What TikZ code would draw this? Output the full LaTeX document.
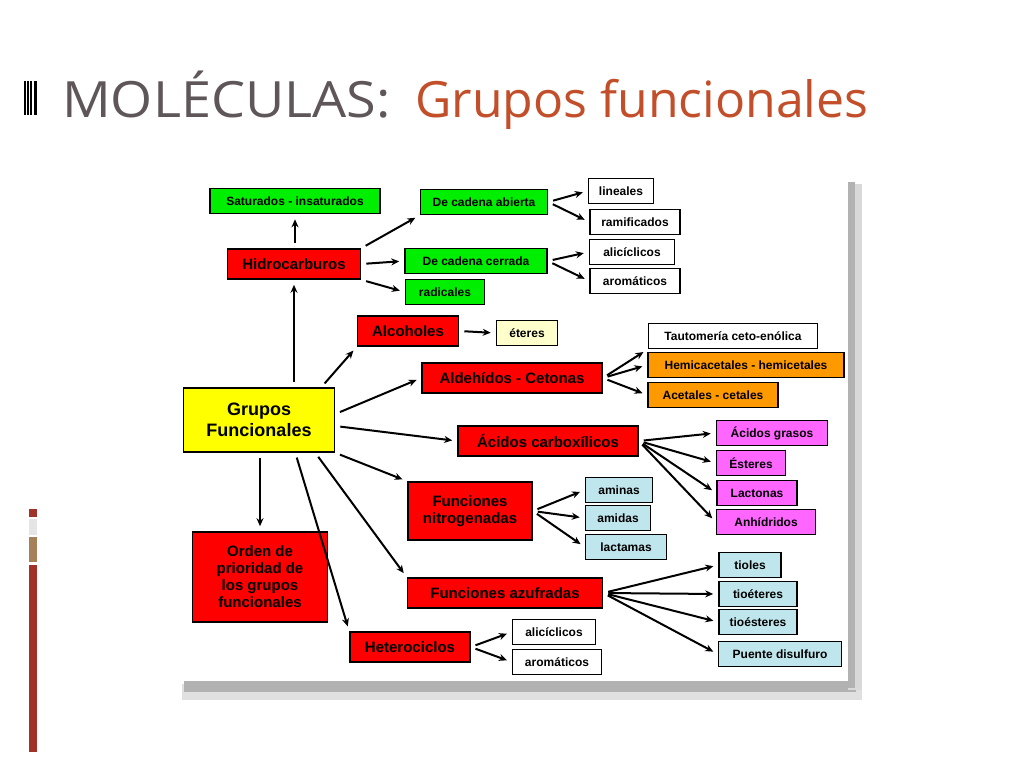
\documentclass[tikz,border=0pt]{standalone}
\usepackage{fontspec}
\setmainfont{Liberation Sans}
\newfontfamily\titlefont{Open Sans}
\usetikzlibrary{arrows.meta,shadows}
\definecolor{gr}{HTML}{00EE00}
\definecolor{rd}{HTML}{FF0000}
\definecolor{ye}{HTML}{FFFF00}
\definecolor{ora}{HTML}{FF9900}
\definecolor{mag}{HTML}{FF66FF}
\definecolor{lb}{HTML}{BFE6EC}
\definecolor{cre}{HTML}{FFFFCC}
\definecolor{bar}{HTML}{A0322A}
\definecolor{ttl}{HTML}{5E5658}
\definecolor{ttl2}{HTML}{C24E2A}
\begin{document}
\begin{tikzpicture}[x=1pt,y=-1pt,
 bx/.style={draw=black,line width=1.6pt,inner sep=0pt,font=\bfseries\fontsize{12}{13}\selectfont,align=center},
 s/.style={bx,minimum width=#1,minimum height=25},
 g/.style={s=#1,fill=gr}, w/.style={s=#1,fill=white}, o/.style={s=#1,fill=ora},
 m/.style={s=#1,fill=mag}, l/.style={s=#1,fill=lb},
 r/.style={bx,fill=rd,minimum width=#1,minimum height=30,font=\bfseries\fontsize{15}{17}\selectfont},
 ar/.style={-{Stealth[length=8pt,width=7pt]},line width=2pt,shorten >=5pt,shorten <=5pt}]
\useasboundingbox (0,0) rectangle (1024,768);
\fill[white] (0,0) rectangle (1024,768);
% title
\foreach \x/\wd in {24/1.5,27/1.5,30/2,33.5/3.5}{\fill[black] (\x,81) rectangle (\x+\wd,115);}
\node[anchor=base west,inner sep=0pt,text=ttl,font=\titlefont\fontsize{50}{54}\selectfont] (t1) at (62,117) {\scalebox{1.08}[1]{MOLÉCULAS:}};
\node[anchor=base west,inner sep=0pt,text=ttl2,font=\titlefont\fontsize{50}{54}\selectfont] (t2) at (415,117) {Grupos funcionales};
% side bar
\fill[bar] (29,509) rectangle (37,517);
\fill[black!10] (29,519) rectangle (37,535);
\fill[brown!60!gray] (29,537) rectangle (37,562);
\fill[bar] (29,565) rectangle (37,752);
% panel
\fill[black!12] (182,684) rectangle (862,700);
\fill[black!30] (184,681) rectangle (856,692);
\fill[black!15] (848,184) rectangle (862,690);
\fill[black!30] (848,182) rectangle (855,688);
\fill[white] (178,176) rectangle (848,680);
% nodes
\node[g=170] (sat) at (295,201) {Saturados - insaturados};
\node[g=127] (dca) at (484,202) {De cadena abierta};
\node[w=65] (lin) at (621,191) {lineales};
\node[w=90] (ram) at (635,222) {ramificados};
\node[r=133] (hid) at (294,264) {Hidrocarburos};
\node[g=142] (dcc) at (476,261) {De cadena cerrada};
\node[w=85] (ali) at (632,252) {alicíclicos};
\node[w=90] (aro) at (635,281) {aromáticos};
\node[g=79] (rad) at (445,292) {radicales};
\node[r=101] (alc) at (408,331) {Alcoholes};
\node[s=61,fill=cre] (ete) at (527,333) {éteres};
\node[w=169] (tau) at (733,336) {Tautomería ceto-enólica};
\node[o=196] (hem) at (746,365) {Hemicacetales - hemicetales};
\node[o=130] (ace) at (713,395) {Acetales - cetales};
\node[r=180] (ald) at (512,378) {Aldehídos - Cetonas};
\node[bx,fill=ye,minimum width=151,minimum height=64,font=\bfseries\fontsize{18}{21}\selectfont] (gf) at (259,420) {Grupos\\Funcionales};
\node[r=180] (aci) at (548,441) {Ácidos carboxílicos};
\node[m=111] (agr) at (772,433) {Ácidos grasos};
\node[m=69] (est) at (751,463) {Ésteres};
\node[m=80] (lac) at (757,493) {Lactonas};
\node[m=99] (anh) at (766,522) {Anhídridos};
\node[r=124,minimum height=58] (nit) at (470,511) {Funciones\\nitrogenadas};
\node[l=67] (ami) at (619,490) {aminas};
\node[l=65] (amd) at (618,518) {amidas};
\node[l=81] (lct) at (626,547) {lactamas};
\node[r=135,minimum height=90] (ord) at (260,577) {Orden de\\prioridad de\\los grupos\\funcionales};
\node[r=195] (azu) at (505,593) {Funciones azufradas};
\node[l=62] (tio) at (750,565) {tioles};
\node[l=78] (tet) at (758,594) {tioéteres};
\node[l=78] (tes) at (758,622) {tioésteres};
\node[l=123] (pue) at (780,654) {Puente disulfuro};
\node[r=120] (het) at (410,647) {Heterociclos};
\node[w=83] (ali2) at (554,632) {alicíclicos};
\node[w=89] (aro2) at (557,662) {aromáticos};
% arrows
\draw[ar] (hid.north-|sat) -- (sat);
\draw[ar] (hid.north east) -- (dca.south west);
\draw[ar] (hid.east) -- (dcc.west);
\draw[ar] (hid.south east) -- (rad.west);
\draw[ar] (dca.east) -- (lin.west);
\draw[ar] (dca.east) -- (ram.west);
\draw[ar] (dcc.east) -- (ali.west);
\draw[ar] (dcc.east) -- (aro.west);
\draw[ar] (gf.north-|hid) -- (hid);
\draw[ar] (gf.north east) ++(-14,0) -- (alc.south west);
\draw[ar] (alc.east) -- (ete.west);
\draw[ar] (gf.east) ++(0,-6) -- (ald.west);
\draw[ar] (ald.east) -- (tau.south west);
\draw[ar] (ald.east) -- (hem.west);
\draw[ar] (ald.east) -- (ace.west);
\draw[ar] (gf.east) ++(0,6) -- (aci.west);
\draw[ar] (aci.east) -- (agr.west);
\draw[ar] (aci.east) -- (est.west);
\draw[ar] (aci.east) -- (lac.west);
\draw[ar] (aci.east) -- (anh.west);
\draw[ar] (gf.south east) -- (nit.north west);
\draw[ar] (nit.east) -- (ami.west);
\draw[ar] (nit.east) -- (amd.west);
\draw[ar] (nit.east) -- (lct.west);
\draw[ar] (gf.south-|ord) -- (ord);
\draw[ar] (gf.south east) ++(-20,0) -- (azu.north west);
\draw[ar] (gf.south east) ++(-40,0) -- (het.north west);
\draw[ar] (azu.east) -- (tio.west);
\draw[ar] (azu.east) -- (tet.west);
\draw[ar] (azu.east) -- (tes.west);
\draw[ar] (azu.east) -- (pue.west);
\draw[ar] (het.east) -- (ali2.west);
\draw[ar] (het.east) -- (aro2.west);
\end{tikzpicture}
\end{document}
